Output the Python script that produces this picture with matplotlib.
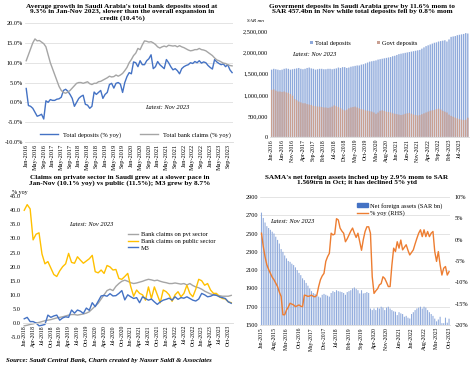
import numpy as np
import pandas as pd
import matplotlib
matplotlib.use("Agg")
import matplotlib.pyplot as plt
from matplotlib.patches import Patch
from matplotlib.lines import Line2D

plt.rcParams['font.family'] = ['Liberation Serif', 'DejaVu Serif']

# ---- panel 1: deposits vs bank claims, % yoy (Jan-2016 .. Nov-2023)
p1_months = pd.date_range('2016-01-01', '2023-11-01', freq='MS')
p1_deposits = [3.5, -0.8, -1.0, -1.5, -2.5, -3.5, -3.3, -3.0, -4.2, 0.4, 0.0, 0.7,
               0.5, 0.5, 0.8, 0.9, 1.3, 3.0, 3.3, 2.8, 2.0, 1.0, -1.0, 0.0,
               1.0, 1.5, 1.8, -0.5, -0.7, -1.5, -1.0, 2.6, 2.0, 2.5, 3.0, 1.0,
               2.0, 2.5, 4.5, 4.8, 3.6, 4.8, 5.0, 4.6, 2.5, 5.0, 6.5, 7.5,
               7.2, 10.2, 10.0, 9.0, 10.5, 9.5, 9.5, 10.5, 11.0, 12.0, 8.5, 9.0,
               10.3, 9.5, 9.0, 8.5, 10.8, 10.0, 9.0, 8.2, 8.5, 8.0, 7.2, 8.5,
               9.0, 9.3, 9.5, 10.0, 9.8, 10.3, 10.0, 10.5, 9.9, 10.2, 10.0, 9.3,
               8.8, 8.4, 10.8, 10.2, 9.8, 9.5, 9.7, 9.0, 9.5, 8.2, 7.5]
p1_claims = [10.5, 12.0, 13.5, 15.0, 16.0, 15.5, 15.6, 15.2, 14.8, 14.0, 12.0, 10.0,
             8.5, 7.0, 5.5, 4.0, 3.0, 2.5, 2.3, 2.6, 3.0, 3.6, 4.2, 4.8,
             5.0, 5.0, 4.8, 5.0, 5.2, 4.7, 4.5, 4.8, 4.8, 5.2, 5.3, 5.6,
             5.9, 6.2, 6.6, 6.4, 6.5, 6.9, 6.6, 6.9, 7.3, 8.0, 8.8, 10.0,
             10.8, 11.8, 12.4, 13.6, 13.3, 14.5, 15.5, 15.4, 15.2, 15.3, 15.0, 14.6,
             14.0, 13.7, 14.0, 14.2, 14.0, 14.4, 14.3, 14.2, 14.3, 14.0, 14.3, 14.0,
             13.8, 13.5, 13.2, 13.0, 13.1, 13.3, 13.3, 13.6, 13.3, 13.2, 13.0, 12.6,
             12.2, 11.8, 11.2, 10.7, 10.5, 10.2, 9.9, 9.8, 9.5, 9.3, 9.2]

# ---- panel 2: total vs govt deposits, SAR mn (Jan-2016 .. Nov-2023)
p2_months = p1_months
p2_total = [1600, 1620, 1610, 1600, 1590, 1600, 1620, 1630, 1620, 1600, 1610, 1620,
            1630, 1640, 1620, 1610, 1620, 1640, 1650, 1630, 1620, 1600, 1610, 1620,
            1620, 1610, 1610, 1620, 1620, 1610, 1620, 1630, 1650, 1640, 1660, 1660,
            1640, 1650, 1670, 1680, 1690, 1700, 1700, 1720, 1730, 1750, 1770, 1790,
            1800, 1810, 1820, 1840, 1850, 1860, 1870, 1880, 1890, 1900, 1920, 1930,
            1950, 1970, 1980, 1990, 2000, 2010, 2020, 2030, 2040, 2050, 2060, 2070,
            2100, 2130, 2160, 2180, 2200, 2220, 2240, 2250, 2270, 2280, 2290, 2300,
            2270, 2320, 2380, 2390, 2400, 2420, 2430, 2440, 2450, 2470, 2460]
p2_total = [v * 1000 for v in p2_total]
p2_govt = [1120, 1130, 1100, 1080, 1080, 1070, 1080, 1060, 1050, 1020, 980, 900,
           870, 840, 820, 800, 800, 780, 770, 760, 740, 730, 720, 720,
           710, 700, 700, 690, 700, 720, 750, 730, 710, 680, 650, 630,
           650, 680, 700, 710, 720, 700, 680, 660, 650, 630, 620, 610,
           600, 580, 550, 580, 620, 630, 620, 600, 590, 580, 560, 550,
           540, 530, 520, 530, 550, 560, 570, 550, 530, 520, 510, 520,
           540, 560, 580, 600, 620, 630, 640, 660, 670, 650, 620, 600,
           580, 530, 500, 480, 460, 440, 420, 410, 400, 410, 457]
p2_govt = [v * 1000 for v in p2_govt]

# ---- panel 3: claims on pvt / public sector and M3, % yoy (Jan-2018 .. Nov-2023)
p3_months = pd.date_range('2018-01-01', '2023-11-01', freq='MS')
p3_pvt = [-1.0, -0.8, -0.5, -0.3, 0.0, 0.2, 0.5, 0.8, 1.0, 1.2, 1.5, 1.8,
          2.0, 2.2, 2.5, 2.8, 3.0, 3.0, 2.8, 3.0, 3.2, 3.5, 4.0, 5.0,
          6.0, 7.0, 8.5, 10.0, 11.5, 12.0, 11.5, 13.0, 14.0, 14.8, 15.2, 14.8,
          14.3, 14.0, 14.2, 14.5, 14.8, 15.2, 15.5, 15.3, 15.0, 15.2, 14.8, 14.5,
          14.3, 14.0, 14.0, 14.2, 14.0, 13.8, 14.0, 13.5, 14.0, 13.3, 12.8, 12.5,
          12.0, 11.3, 10.8, 10.3, 10.0, 10.0, 9.7, 9.5, 9.5, 9.5, 9.8]
p3_public = [40.0, 42.0, 40.5, 29.5, 31.5, 32.0, 24.5, 21.0, 21.8, 19.5, 17.2, 16.5,
             18.5, 20.0, 21.0, 24.7, 21.5, 21.2, 23.5, 22.3, 21.2, 22.0, 22.8, 24.0,
             18.2, 17.8, 18.8, 17.6, 20.4, 19.9, 18.8, 19.0, 15.8, 15.5, 16.5, 17.6,
             13.0, 9.5, 11.7, 10.5, 10.0, 8.1, 12.8, 8.7, 12.8, 10.0, 7.2, 11.7,
             11.1, 10.0, 7.7, 10.0, 11.1, 9.3, 10.5, 13.4, 10.5, 9.3, 12.0, 15.5,
             15.0, 13.4, 14.0, 11.7, 10.5, 10.5, 9.3, 8.7, 8.5, 7.5, 7.2]
p3_m3 = [1.5, 2.0, 0.5, 0.5, 0.0, -1.0, -0.8, -0.5, 2.8, 2.0, 2.5, 2.8,
         1.0, 1.8, 2.2, 2.0, 4.6, 3.5, 4.6, 4.2, 3.4, 5.3, 4.5, 7.2,
         5.8, 7.7, 9.6, 9.8, 9.5, 10.4, 9.6, 9.7, 10.5, 11.5, 8.2, 10.0,
         9.3, 8.7, 9.0, 7.2, 9.3, 8.7, 8.1, 8.5, 7.5, 6.6, 7.5, 8.1,
         8.4, 8.8, 8.1, 9.3, 8.4, 9.0, 8.8, 9.3, 8.7, 8.1, 7.8, 8.5,
         10.5, 10.0, 9.3, 9.5, 10.0, 9.8, 9.3, 9.0, 8.7, 7.5, 7.0]

# ---- panel 4: SAMA net foreign assets (SAR bn) and % yoy (Jan-2015 .. Oct-2023)
p4_months = pd.date_range('2015-01-01', '2023-10-01', freq='MS')
p4_nfa = [2728, 2670, 2620, 2580, 2560, 2540, 2520, 2500, 2465, 2430, 2390, 2330,
          2300, 2260, 2228, 2200, 2190, 2170, 2155, 2130, 2100, 2070, 2045, 2010,
          1990, 1960, 1930, 1900, 1870, 1850, 1840, 1826, 1810, 1800, 1830, 1840,
          1830, 1820, 1810, 1850, 1870, 1860, 1880, 1870, 1865, 1860, 1850, 1830,
          1860, 1870, 1880, 1900, 1910, 1895, 1880, 1845, 1880, 1845, 1850, 1860,
          1850, 1680, 1663, 1681, 1663, 1690, 1680, 1700, 1690, 1663, 1690, 1700,
          1680, 1663, 1650, 1645, 1608, 1640, 1627, 1620, 1590, 1600, 1580, 1571,
          1620, 1640, 1663, 1681, 1690, 1700, 1680, 1700, 1690, 1663, 1640, 1620,
          1600, 1570, 1540, 1560, 1590, 1520, 1520, 1580, 1525, 1569]
p4_yoy = [1.5, -1.6, -4.0, -5.9, -7.0, -7.9, -8.8, -9.4, -10.2, -11.0, -12.3, -13.3,
          -17.6, -17.6, -16.5, -15.8, -14.9, -15.1, -15.3, -15.7, -15.5, -15.3, -15.6, -15.7,
          -13.0, -13.1, -13.3, -13.2, -13.0, -13.3, -13.4, -13.0, -11.0, -9.4, -8.5, -7.9,
          -5.1, -4.0, -3.2, 1.5, 1.1, 1.3, 4.9, 4.6, 2.7, 2.0, 1.5, -0.5,
          0.2, 1.1, 2.0, 2.7, 1.5, 0.5, 1.5, -0.5, -2.5, 0.0, 1.9, 3.0,
          3.0, 1.5, -8.7, -12.6, -12.0, -11.5, -10.6, -10.3, -8.7, -9.1, -10.0, -11.0,
          -11.0, -6.0, -2.0, -2.8, -0.5, -2.0, -0.1, -2.4, -1.8, -1.2, -2.5, -3.6,
          -3.0, -2.4, -1.0, 0.3, 1.5, 2.3, 0.7, 2.3, 0.7, 1.9, 0.7, 1.5,
          1.9, -2.8, -5.1, -2.8, -5.9, -8.3, -6.7, -6.3, -8.3, -7.5]

BLUE = '#4472C4'
GREY = '#A5A5A5'
GOLD = '#FFC000'
ORANGE = '#ED7D31'
TICK = 4.5      # y tick label size
XTICK = 4.1     # rotated month labels
TITLE = 5.2     # panel title size
SMALL = 4.6     # legends / notes


def month_labels(months):
    return [m.strftime('%b-%Y') for m in months]


def style_axes(ax, grid=True, xsize=XTICK):
    for s in ['top', 'right', 'left']:
        ax.spines[s].set_visible(False)
    ax.spines['bottom'].set_color('#D9D9D9')
    ax.spines['bottom'].set_linewidth(0.6)
    if grid:
        ax.grid(axis='y', color='#D9D9D9', linewidth=0.5)
    ax.set_axisbelow(True)
    ax.tick_params(length=0, labelsize=TICK, pad=1.5)
    ax.tick_params(axis='x', labelsize=xsize, labelrotation=90)


def title_at(x, y, txt):
    # panel titles sit at fixed spots, centred over each chart
    fig.text(x / 474, 1 - y / 366, txt, ha='center', va='top', fontsize=TITLE,
             fontweight='bold', linespacing=1.1)


fig = plt.figure(figsize=(4.74, 3.66), dpi=100)

# ---------------- panel 1
ax1 = fig.add_axes([0.053, 0.612, 0.439, 0.325])
x1 = np.arange(len(p1_months))
ax1.plot(x1, p1_deposits, color=BLUE, lw=1.0, label='Total deposits (% yoy)')
ax1.plot(x1, p1_claims, color=GREY, lw=1.0, label='Total bank claims (% yoy)')
ax1.set_ylim(-10, 20)
ax1.set_yticks(np.arange(-10, 21, 5))
ax1.set_yticklabels(['%.1f%%' % v for v in np.arange(-10, 21, 5)])
ax1.set_xlim(-0.5, len(x1) - 0.5)
ax1.set_xticks(x1[::4])
ax1.set_xticklabels(month_labels(p1_months)[::4])
style_axes(ax1, xsize=4.5)
ax1.text(0.575, 0.28, 'Latest: Nov 2023', transform=ax1.transAxes, fontsize=SMALL,
         style='italic')
ax1.legend(loc='lower center', bbox_to_anchor=(0.53, 0.0), ncol=2, frameon=False,
           fontsize=SMALL, handlelength=2.8, columnspacing=3.0, borderpad=0.2)
title_at(122, 4, "Average growth in Saudi Arabia's total bank deposits stood at\n"
                 "9.3% in Jan-Nov 2023, slower than the overall expansion in\n"
                 "credit (10.4%)")

# ---------------- panel 2
ax2 = fig.add_axes([0.570, 0.626, 0.420, 0.287])
x2 = np.arange(len(p2_months))
ax2.bar(x2, p2_total, width=0.65, color='#8EA9DB', snap=False, label='Total deposits')
ax2.bar(x2, p2_govt, width=0.65, color='#C9A092', snap=False, label='Govt deposits')
ax2.set_ylim(0, 2500000)
ax2.set_yticks(np.arange(0, 2500001, 500000))
ax2.set_yticklabels(['{:,}'.format(v) for v in range(0, 2500001, 500000)])
ax2.set_xlim(-0.7, len(x2) - 0.3)
ax2.set_xticks(x2[::5])
ax2.set_xticklabels(month_labels(p2_months)[::5])
style_axes(ax2, grid=False)
ax2.text(0.11, 0.77, 'Latest: Nov 2023', transform=ax2.transAxes, fontsize=SMALL,
         style='italic')
ax2.text(-0.115, 1.09, 'SAR mn', transform=ax2.transAxes, fontsize=3.8, style='italic')
ax2.legend(loc='upper center', bbox_to_anchor=(0.47, 0.97), ncol=2, frameon=False,
           fontsize=SMALL, handlelength=0.5, handleheight=0.5, columnspacing=4.0,
           handletextpad=0.3)
title_at(362, 4, "Goverment deposits in Saudi Arabia grew by 11.6% mom to\n"
                 "SAR 457.4bn in Nov while total deposits fell by 0.8% mom")

# ---------------- panel 3
ax3 = fig.add_axes([0.048, 0.079, 0.443, 0.385])
# category axis crosses at zero, month labels hang from it
ax3.spines['bottom'].set_position(('data', 0))
x3 = np.arange(len(p3_months))
ax3.plot(x3, p3_pvt, color=GREY, lw=1.0, label='Bank claims on pvt sector')
ax3.plot(x3, p3_public, color=GOLD, lw=1.0, label='Bank claims on public sector')
ax3.plot(x3, p3_m3, color=BLUE, lw=1.0, label='M3')
ax3.set_ylim(-5, 45)
ax3.set_yticks(np.arange(-5, 46, 5))
ax3.set_yticklabels(['%.1f' % v for v in np.arange(-5, 46, 5)])
ax3.set_xlim(-0.5, len(x3) - 0.5)
ax3.set_xticks(x3[::3])
ax3.set_xticklabels(month_labels(p3_months)[::3])
style_axes(ax3, grid=False)
ax3.text(0.22, 0.79, 'Latest: Nov 2023', transform=ax3.transAxes, fontsize=SMALL,
         style='italic')
ax3.text(-0.05, 1.01, '% yoy', transform=ax3.transAxes, fontsize=4.3, va='bottom')
ax3.legend(loc='upper left', bbox_to_anchor=(0.48, 0.78), frameon=False,
           fontsize=SMALL, handlelength=1.6, labelspacing=0.2, borderpad=0.2,
           handletextpad=0.4)
title_at(120, 175, "Claims on private sector in Saudi grew at a slower pace in\n"
                   "Jan-Nov (10.1% yoy) vs public (11.5%); M3 grew by 8.7%")

# ---------------- panel 4
ax4 = fig.add_axes([0.549, 0.112, 0.401, 0.350])
x4 = np.arange(len(p4_months))
ax4.bar(x4, [v - 1500 for v in p4_nfa], bottom=1500, width=0.6, color='#8FAADC',
        snap=False)
ax4.set_ylim(1500, 2900)
ax4.set_yticks(np.arange(1500, 2901, 200))
ax4.set_xlim(-0.7, len(x4) - 0.3)
ax4.set_xticks(x4[::7])
ax4.set_xticklabels(month_labels(p4_months)[::7])
style_axes(ax4)
ax4b = ax4.twinx()
ax4b.plot(x4, p4_yoy, color=ORANGE, lw=1.0)
ax4b.set_ylim(-20, 10)
ax4b.set_yticks(np.arange(-20, 11, 5))
ax4b.set_yticklabels(['%d%%' % v for v in np.arange(-20, 11, 5)])
for s in ['top', 'right', 'left', 'bottom']:
    ax4b.spines[s].set_visible(False)
ax4b.tick_params(length=0, labelsize=TICK, pad=3)
ax4.text(0.05, 0.80, 'Latest: Nov 2023', transform=ax4.transAxes, fontsize=SMALL,
         style='italic')
handles = [Patch(color=BLUE), Line2D([], [], color=ORANGE, lw=1.0)]
ax4b.legend(handles, ['Net foreign assets (SAR bn)', '% yoy (RHS)'],
            loc='upper right', bbox_to_anchor=(0.99, 1.0), frameon=False,
            fontsize=SMALL, handlelength=1.6, labelspacing=0.3, handletextpad=0.4)
title_at(357, 175, "SAMA's net foreign assets inched up by 2.9% mom to SAR\n"
                   "1.569trn in Oct; it has declined 5% ytd")

fig.text(0.012, 0.012, 'Source: Saudi Central Bank, Charts created by Nasser Saidi & Associates',
         fontsize=4.9, fontweight='bold', style='italic')

fig.savefig('out.png', dpi=100)
